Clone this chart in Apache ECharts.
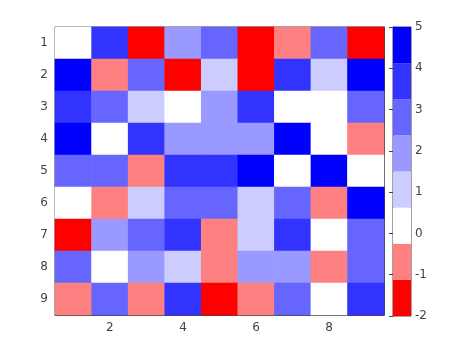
<!DOCTYPE html>
<html>
<head>
<meta charset="utf-8">
<script src="https://cdn.jsdelivr.net/npm/echarts@6/dist/echarts.min.js"></script>
<style>
html, body { margin: 0; padding: 0; background: #fff; }
#main { width: 474px; height: 355px; }
</style>
</head>
<body>
<div id="main"></div>
<script>
// rows 1..9 (top to bottom), columns 1..9
var cols = ['1', '2', '3', '4', '5', '6', '7', '8', '9'];
var rows = ['1', '2', '3', '4', '5', '6', '7', '8', '9'];
var grid = [
    [ 0,  4, -2,  2,  3, -2, -1,  3, -2],
    [ 5, -1,  3, -2,  1, -2,  4,  1,  5],
    [ 4,  3,  1,  0,  2,  4,  0,  0,  3],
    [ 5,  0,  4,  2,  2,  2,  5,  0, -1],
    [ 3,  3, -1,  4,  4,  5,  0,  5,  0],
    [ 0, -1,  1,  3,  3,  1,  3, -1,  5],
    [-2,  2,  3,  4, -1,  1,  4,  0,  3],
    [ 3,  0,  2,  1, -1,  2,  2, -1,  3],
    [-1,  3, -1,  4, -2, -1,  3,  0,  4]
];
var levels = [-2, -1, 0, 1, 2, 3, 4, 5];
var colors = ['#ff0000', '#ff8080', '#ffffff', '#ccccff', '#9999ff', '#6666ff', '#3333ff', '#0000ff'];
var cbMin = -2, cbMax = 5;

var data = [];
for (var r = 0; r < rows.length; r++) {
    for (var c = 0; c < cols.length; c++) {
        data.push([c, r, grid[r][c]]);
    }
}

// colour bar bands: equal slices of [cbMin, cbMax]
var bands = [];
var step = (cbMax - cbMin) / colors.length;
for (var i = 0; i < colors.length; i++) {
    bands.push([cbMin + i * step, cbMin + (i + 1) * step, i]);
}

var txt = { fontFamily: 'DejaVu Sans', fontSize: 12, color: '#444' };
var line = { lineStyle: { color: '#444', width: 1 } };
var evenOnly = function (i) { return i % 2 === 1; };

var dom = document.getElementById('main');
var myChart = echarts.init(dom);
var option = {
    animation: false,
    backgroundColor: '#fff',
    grid: [
        { left: 55, top: 27, width: 329, height: 288, show: true, borderColor: '#444', borderWidth: 1 },
        { left: 393, top: 27, width: 18, height: 289, show: true, borderColor: '#444', borderWidth: 1 }
    ],
    xAxis: [
        {
            type: 'category', data: cols, gridIndex: 0, position: 'bottom',
            axisLine: line,
            axisTick: { inside: true, length: 4, alignWithLabel: true, interval: evenOnly, lineStyle: { color: '#444' } },
            axisLabel: Object.assign({ interval: evenOnly, margin: 7 }, txt),
            splitLine: { show: false }
        },
        {
            type: 'category', data: cols, gridIndex: 0, position: 'top',
            axisLine: line,
            axisTick: { inside: true, length: 4, alignWithLabel: true, interval: evenOnly, lineStyle: { color: '#444' } },
            axisLabel: { show: false }
        },
        {
            type: 'value', gridIndex: 1, min: 0, max: 1,
            axisLine: { show: false }, axisTick: { show: false }, axisLabel: { show: false }, splitLine: { show: false }
        }
    ],
    yAxis: [
        {
            type: 'category', data: rows, gridIndex: 0, inverse: true, position: 'left',
            axisLine: line,
            axisTick: { inside: true, length: 4, alignWithLabel: true, lineStyle: { color: '#444' } },
            axisLabel: Object.assign({ margin: 7 }, txt)
        },
        {
            type: 'category', data: rows, gridIndex: 0, inverse: true, position: 'right',
            axisLine: line,
            axisTick: { inside: true, length: 4, alignWithLabel: true, lineStyle: { color: '#444' } },
            axisLabel: { show: false }
        },
        {
            type: 'value', gridIndex: 1, min: cbMin, max: cbMax, interval: 1, position: 'right',
            axisLine: line,
            axisTick: { inside: true, length: 4, lineStyle: { color: '#444' } },
            axisLabel: Object.assign({ margin: 4 }, txt),
            splitLine: { show: false }
        }
    ],
    visualMap: {
        show: false,
        type: 'piecewise',
        seriesIndex: 0,
        dimension: 2,
        pieces: levels.map(function (v, i) { return { value: v, color: colors[i] }; })
    },
    series: [
        {
            type: 'heatmap',
            xAxisIndex: 0, yAxisIndex: 0,
            data: data,
            itemStyle: { borderWidth: 0 }
        },
        {
            type: 'custom',
            xAxisIndex: 2, yAxisIndex: 2,
            data: bands,
            renderItem: function (params, api) {
                var p0 = api.coord([0, api.value(1)]);
                var p1 = api.coord([1, api.value(0)]);
                return {
                    type: 'rect',
                    shape: { x: p0[0], y: p0[1], width: p1[0] - p0[0], height: p1[1] - p0[1] },
                    style: { fill: colors[api.value(2)] }
                };
            },
            z: 1
        }
    ]
};
if (option && typeof option === "object") {
    myChart.setOption(option, true);
}
</script>
</body>
</html>
